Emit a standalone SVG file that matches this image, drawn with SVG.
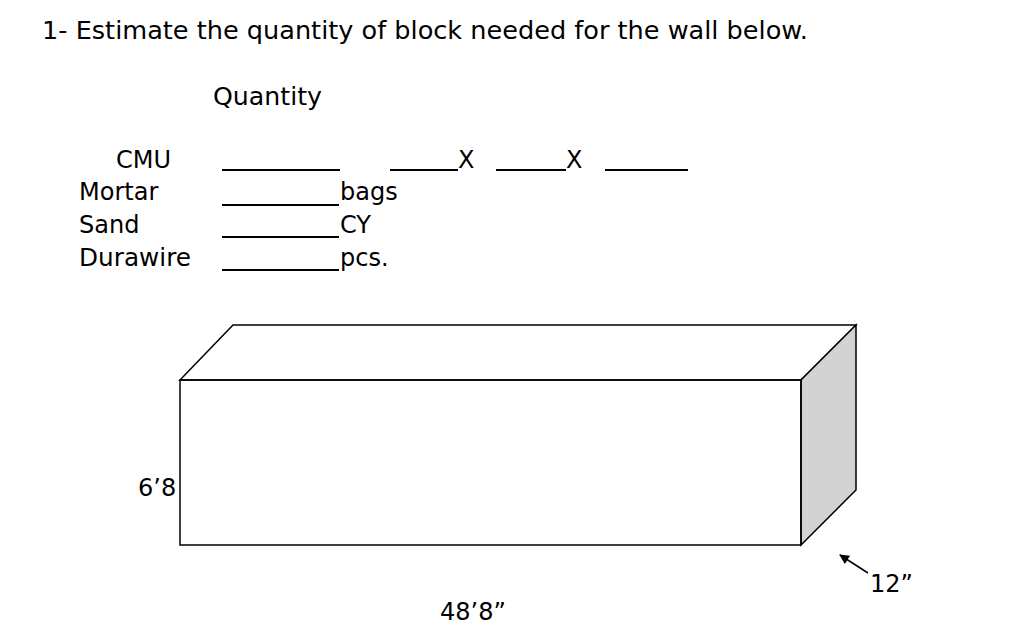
<svg xmlns="http://www.w3.org/2000/svg" width="1024" height="639" viewBox="0 0 1024 639">
<style>
text{font-family:"DejaVu Sans","Open Sans",sans-serif;font-size:24px;fill:#000}
.u{stroke:#000;stroke-width:2}
.e{fill:none;stroke:#000;stroke-width:1.5}
</style>
<defs><marker id="a" markerWidth="10" markerHeight="10" refX="9" refY="5" orient="auto" markerUnits="userSpaceOnUse"><path d="M0,0 L10,5 L0,10 z" fill="#000"/></marker></defs>
<rect width="1024" height="639" fill="#fff"/>
<text x="42" y="39" textLength="766" lengthAdjust="spacingAndGlyphs">1- Estimate the quantity of block needed for the wall below.</text>
<text x="213" y="105" textLength="109" lengthAdjust="spacingAndGlyphs">Quantity</text>
<g id="labels">
<text x="116" y="168">CMU</text>
<text x="79" y="200">Mortar</text>
<text x="79" y="233">Sand</text>
<text x="79" y="266" textLength="112" lengthAdjust="spacingAndGlyphs">Durawire</text>
</g>
<g id="blanks">
<line class="u" x1="222" y1="170" x2="340" y2="170"/>
<line class="u" x1="390" y1="170" x2="458" y2="170"/>
<text x="458" y="168">X</text>
<line class="u" x1="496" y1="170" x2="566" y2="170"/>
<text x="566" y="168">X</text>
<line class="u" x1="605" y1="170" x2="688" y2="170"/>
<line class="u" x1="222" y1="205" x2="339" y2="205"/>
<text x="340" y="200">bags</text>
<line class="u" x1="222" y1="237" x2="339" y2="237"/>
<text x="340" y="233">CY</text>
<line class="u" x1="222" y1="270" x2="339" y2="270"/>
<text x="340" y="266">pcs.</text>
</g>
<g id="wall">
<polygon class="e" points="180,380 233,325 856,325 801,380" style="fill:#fff"/>
<polygon class="e" points="801,380 856,325 856,490 801,545" style="fill:#d3d3d3"/>
<rect class="e" x="180" y="380" width="621" height="165"/>
</g>
<g id="connectors">
<line x1="868" y1="573" x2="840" y2="555" stroke="#000" stroke-width="1.5" marker-end="url(#a)"/>
</g>
<text x="138" y="496">6’8</text>
<text x="440" y="620">48’8”</text>
<text x="870" y="592">12”</text>
</svg>
